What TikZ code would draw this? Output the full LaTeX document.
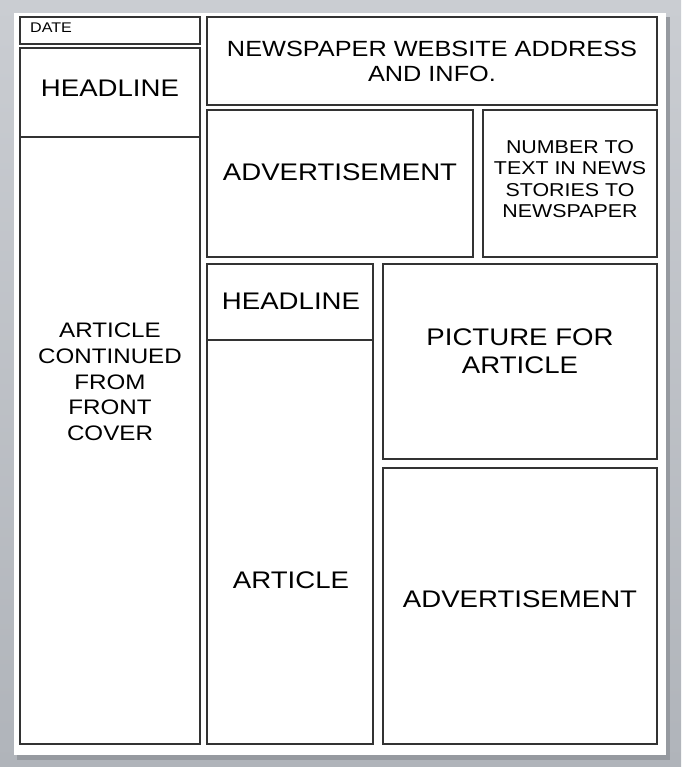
\documentclass[tikz,border=0pt]{standalone}
\usepackage{fontspec}
\setmainfont{Liberation Sans}[FakeStretch=1.15]
\definecolor{backdroptop}{RGB}{202,205,210}
\definecolor{backdrop}{RGB}{176,180,186}
\definecolor{pageshadow}{RGB}{150,154,160}

\begin{document}
\begin{tikzpicture}[x=1pt,y=-1pt,
  panel/.style={draw=black!80, line width=1.8pt, fill=white},
  caption/.style={align=center, text=black, inner sep=0pt}]

% backdrop and page
\shade[top color=backdroptop, bottom color=backdrop] (0,0) rectangle (681,767);
\fill[pageshadow] (17,17) rectangle (670,760);
\fill[white] (14,13) rectangle (666,755);

% panels of the layout (left, top, right, bottom)
\foreach \xa/\ya/\xb/\yb in {20/17/200/44, 20/48/200/744,
  207/17/657/105, 207/110/473/257, 483/110/657/257,
  207/264/373/744, 383/264/657/459, 383/468/657/744}{
  \draw[panel] (\xa,\ya) rectangle (\xb,\yb);
}
% dividers under the headlines
\draw[draw=black!80, line width=1.8pt] (20,137) -- (200,137);
\draw[draw=black!80, line width=1.8pt] (207,340) -- (373,340);

% texts
\node[caption, anchor=west, font=\fontsize{14}{16}\selectfont] (date) at (30,28) {DATE};
\node[caption, font=\fontsize{24}{28}\selectfont] (headlineA) at (110,88) {HEADLINE};
\node[caption, font=\fontsize{21}{25.7}\selectfont] (continued) at (110,382)
  {ARTICLE\\CONTINUED\\FROM\\FRONT\\COVER};
\node[caption, font=\fontsize{22}{25}\selectfont] (website) at (432,61)
  {NEWSPAPER WEBSITE ADDRESS\\AND INFO.};
\node[caption, font=\fontsize{24}{28}\selectfont] (advertA) at (340,172) {ADVERTISEMENT};
\node[caption, font=\fontsize{18.6}{21.5}\selectfont] (number) at (570,179)
  {NUMBER TO\\TEXT IN NEWS\\STORIES TO\\NEWSPAPER};
\node[caption, font=\fontsize{24}{28}\selectfont] (headlineB) at (291,301) {HEADLINE};
\node[caption, font=\fontsize{24}{28}\selectfont] (article) at (291,580) {ARTICLE};
\node[caption, font=\fontsize{24}{28}\selectfont] (picture) at (520,351)
  {PICTURE FOR\\ARTICLE};
\node[caption, font=\fontsize{24}{28}\selectfont] (advertB) at (520,599) {ADVERTISEMENT};

\end{tikzpicture}
\end{document}
